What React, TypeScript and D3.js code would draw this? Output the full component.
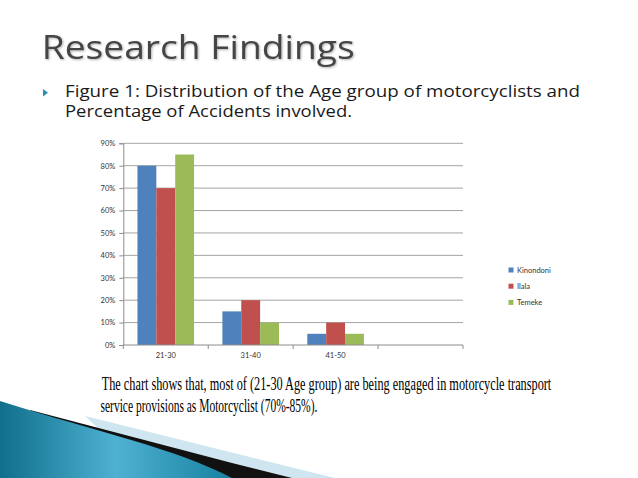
import { axisLeft, format, scaleBand, scaleLinear, select } from 'd3';
import { useEffect, useRef } from 'react';

// age groups; the last slot is empty in the original chart
const categories = ['21-30', '31-40', '41-50', ''];
const seriesNames = ['Kinondoni', 'Ilala', 'Temeke'];
const kinondoni = [0.8, 0.15, 0.05, null];
const ilala = [0.7, 0.2, 0.1, null];
const temeke = [0.85, 0.1, 0.05, null];
const yTicks = [0, 0.1, 0.2, 0.3, 0.4, 0.5, 0.6, 0.7, 0.8, 0.9];
const colors = ['#4f81bd', '#c0504d', '#9bbb59'];

const captionLines = [
  'The chart shows that, most of (21-30 Age group) are being engaged in motorcycle transport',
  'service provisions as Motorcyclist (70%-85%).',
];

export default function App() {
  const width = 638;
  const height = 478;
  const margin = { top: 143.3, bottom: 133, left: 123.3, right: 175 };
  const gy = useRef<SVGGElement>(null);
  const cap = useRef<SVGGElement>(null);

  const series = [kinondoni, ilala, temeke];

  const xScale = scaleBand()
    .domain(categories)
    .range([margin.left, width - margin.right]);

  // excel-style gap width of 150%
  const bw = xScale.bandwidth() / 4.5;
  const inner = scaleBand()
    .domain(seriesNames)
    .range([bw * 0.75, bw * 3.75]);

  const yScale = scaleLinear()
    .domain([0, 0.9])
    .range([height - margin.bottom, margin.top]);

  useEffect(() => {
    const g = select(gy.current);
    g.call(
      axisLeft(yScale).tickValues(yTicks).tickFormat(format('.0%')).tickSize(4).tickPadding(4),
    );
    g.select('.domain').attr('stroke', '#8c8c8c');
    g.selectAll('.tick line').attr('stroke', '#8c8c8c');
    g.selectAll('.tick text')
      .attr('fill', '#333')
      .attr('font-size', 7.5)
      .attr('font-family', 'Lato, "Open Sans", sans-serif');
  }, [gy]);

  // squeeze the caption horizontally like the condensed slide text
  useEffect(() => {
    const spots = [
      { x: 101.7, y: 389.5, w: 450 },
      { x: 100.5, y: 412, w: 217 },
    ];
    select(cap.current)
      .selectAll<SVGTextElement, unknown>('text')
      .each(function (_, i) {
        const len = this.getComputedTextLength();
        const s = spots[i];
        this.setAttribute('transform', `translate(${s.x},${s.y}) scale(${s.w / len},1)`);
      });
  }, [cap]);

  const y0 = yScale(0);
  const boundaries = [...categories.map((c) => xScale(c)!), width - margin.right];

  return (
    <div style={{ position: 'fixed', left: 0, top: 0 }}>
      <svg width={width} height={height} style={{ display: 'block', background: '#fff' }}>
        <defs>
          <linearGradient id='teal' x1='0' y1='0' x2='1' y2='0'>
            <stop offset='0' stopColor='#0f6f8c' />
            <stop offset='0.5' stopColor='#4fb1d2' />
            <stop offset='1' stopColor='#17819f' />
          </linearGradient>
          <filter id='sh' x='-5%' y='-5%' width='110%' height='120%'>
            <feDropShadow dx='1' dy='1' stdDeviation='0.8' floodColor='#000' floodOpacity='0.3' />
          </filter>
        </defs>

        {/* title */}
        <text
          x={41.7}
          y={59.3}
          fontFamily='"Open Sans", "DejaVu Sans", sans-serif'
          fontSize={33.5}
          fill='#454545'
          textLength={313}
          lengthAdjust='spacingAndGlyphs'
          filter='url(#sh)'>
          Research Findings
        </text>

        {/* bullet */}
        <path d='M43,89 L48,92.7 L43,96.4 Z' fill='#2a8fb3' />
        <g fontFamily='"Open Sans", "DejaVu Sans", sans-serif' fontSize={16} fill='#1a1a1a'>
          <text x={65} y={97.3} textLength={515} lengthAdjust='spacingAndGlyphs'>
            Figure 1: Distribution of the Age group of motorcyclists and
          </text>
          <text x={65} y={117.3} textLength={287} lengthAdjust='spacingAndGlyphs'>
            Percentage of Accidents involved.
          </text>
        </g>

        {/* chart */}
        <g>
          {yTicks.slice(1).map((t) => (
            <line
              key={t}
              x1={margin.left}
              x2={width - margin.right}
              y1={yScale(t)}
              y2={yScale(t)}
              stroke='#9a9a9a'
              strokeWidth={0.9}
            />
          ))}
        </g>
        <g>
          {series.map((vals, si) =>
            vals.map((v, ci) =>
              v == null ? null : (
                <rect
                  key={`${si}-${ci}`}
                  x={xScale(categories[ci])! + inner(seriesNames[si])!}
                  y={yScale(v)}
                  width={inner.bandwidth()}
                  height={y0 - yScale(v)}
                  fill={colors[si]}
                />
              ),
            ),
          )}
        </g>
        <g ref={gy} transform={`translate(${margin.left}, 0)`}></g>
        <line x1={margin.left} x2={width - margin.right} y1={y0} y2={y0} stroke='#8c8c8c' />
        {boundaries.map((b, i) => (
          <line key={i} x1={b} x2={b} y1={y0} y2={y0 + 4} stroke='#8c8c8c' />
        ))}
        {categories.map((c) => (
          <text
            key={c}
            x={xScale(c)! + xScale.bandwidth() / 2}
            y={y0 + 12.5}
            textAnchor='middle'
            fontSize={7.5}
            fill='#333'
            fontFamily='Lato, "Open Sans", sans-serif'>
            {c}
          </text>
        ))}

        {/* legend */}
        {seriesNames.map((s, i) => (
          <g key={s} transform={`translate(511, ${270 + i * 16.2})`}>
            <rect x={-2.5} y={-2.5} width={5} height={5} fill={colors[i]} />
            <text x={6} y={2.7} fontSize={7.5} fill='#333' fontFamily='Lato, "Open Sans", sans-serif'>
              {s}
            </text>
          </g>
        ))}

        {/* caption */}
        <g
          ref={cap}
          fontFamily='"Liberation Serif", "Times New Roman", serif'
          fontSize={19.5}
          fill='#000'>
          {captionLines.map((t) => (
            <text key={t}>{t}</text>
          ))}
        </g>

        {/* decoration bottom-left */}
        <path d='M85,416 L335,478 L150,478 Z' fill='#cfe6f0' />
        <path d='M30,410 L232,463 L292,478 L100,478 Z' fill='#111' />
        <path d='M0,401 C100,433 175,448 232,478 L0,478 Z' fill='url(#teal)' />
      </svg>
    </div>
  );
}
